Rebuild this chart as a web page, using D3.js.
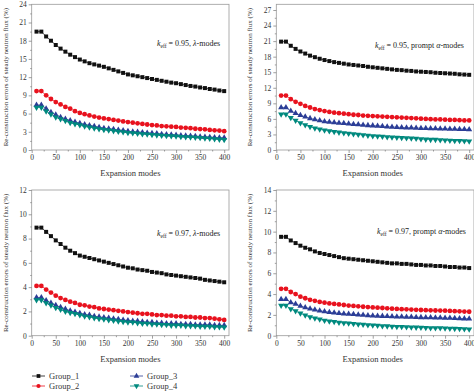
<!DOCTYPE html>
<html>
<head>
<meta charset="utf-8">
<script src="https://cdn.jsdelivr.net/npm/d3@7"></script>
<style>
  body { margin: 0; background: #fff; }
  svg { display: block; font-family: "Liberation Serif", "DejaVu Serif", serif; }
</style>
</head>
<body>
<svg id="svg" width="474" height="391"></svg>
<script>
const modes = d3.range(10, 401, 10)
const groups = ['Group_1', 'Group_2', 'Group_3', 'Group_4']

// k_eff = 0.95, lambda-modes
const tlG1 = [19.5, 19.5, 18.7, 18.0, 17.3, 16.7, 16.2, 15.7, 15.3, 14.9, 14.6, 14.3, 14.1, 13.9, 13.7, 13.45, 13.2, 12.95, 12.7, 12.45, 12.3, 12.15, 12.0, 11.85, 11.7, 11.55, 11.4, 11.25, 11.1, 11.0, 10.85, 10.7, 10.55, 10.45, 10.3, 10.2, 10.05, 9.95, 9.8, 9.7]
const tlG2 = [9.7, 9.7, 9.0, 8.4, 7.9, 7.5, 7.1, 6.8, 6.4, 6.1, 5.9, 5.7, 5.5, 5.35, 5.2, 5.1, 4.95, 4.85, 4.7, 4.6, 4.5, 4.4, 4.3, 4.2, 4.1, 4.05, 3.95, 3.9, 3.85, 3.8, 3.7, 3.65, 3.6, 3.5, 3.45, 3.4, 3.3, 3.25, 3.2, 3.1]
const tlG3 = [7.4, 7.4, 6.8, 6.2, 5.8, 5.4, 5.1, 4.85, 4.6, 4.4, 4.2, 4.05, 3.9, 3.75, 3.6, 3.5, 3.4, 3.3, 3.2, 3.1, 3.0, 2.95, 2.9, 2.8, 2.75, 2.7, 2.6, 2.55, 2.5, 2.45, 2.4, 2.35, 2.3, 2.25, 2.2, 2.15, 2.1, 2.05, 2.0, 2.0]
const tlG4 = [7.0, 7.0, 6.4, 5.9, 5.4, 5.1, 4.8, 4.5, 4.3, 4.1, 3.9, 3.75, 3.6, 3.45, 3.35, 3.25, 3.15, 3.05, 2.95, 2.85, 2.8, 2.7, 2.65, 2.6, 2.5, 2.45, 2.4, 2.35, 2.3, 2.25, 2.2, 2.15, 2.1, 2.05, 2.0, 1.95, 1.9, 1.8, 1.75, 1.7]

// k_eff = 0.95, prompt alpha-modes
const trG1 = [20.9, 20.9, 20.1, 19.5, 19.0, 18.6, 18.2, 17.9, 17.6, 17.35, 17.15, 16.95, 16.8, 16.65, 16.5, 16.4, 16.3, 16.2, 16.05, 15.95, 15.85, 15.75, 15.65, 15.55, 15.45, 15.4, 15.3, 15.25, 15.15, 15.1, 15.05, 15.0, 14.9, 14.85, 14.8, 14.75, 14.7, 14.6, 14.55, 14.5]
const trG2 = [10.5, 10.5, 9.8, 9.3, 8.9, 8.5, 8.2, 7.9, 7.7, 7.5, 7.35, 7.2, 7.1, 7.0, 6.9, 6.8, 6.75, 6.65, 6.6, 6.55, 6.5, 6.45, 6.4, 6.35, 6.3, 6.25, 6.2, 6.15, 6.1, 6.05, 6.0, 5.95, 5.9, 5.9, 5.85, 5.8, 5.8, 5.75, 5.7, 5.7]
const trG3 = [8.2, 8.2, 7.5, 7.1, 6.7, 6.4, 6.1, 5.9, 5.7, 5.5, 5.4, 5.3, 5.2, 5.15, 5.05, 4.95, 4.9, 4.8, 4.75, 4.7, 4.65, 4.6, 4.5, 4.45, 4.4, 4.35, 4.3, 4.3, 4.25, 4.2, 4.2, 4.15, 4.15, 4.1, 4.1, 4.05, 4.05, 4.0, 4.0, 3.95]
const trG4 = [6.9, 6.9, 6.2, 5.7, 5.2, 4.8, 4.5, 4.2, 4.0, 3.8, 3.65, 3.5, 3.4, 3.3, 3.2, 3.1, 3.0, 2.9, 2.8, 2.7, 2.65, 2.6, 2.5, 2.45, 2.4, 2.35, 2.3, 2.25, 2.2, 2.1, 2.05, 2.0, 2.0, 1.95, 1.9, 1.85, 1.8, 1.8, 1.75, 1.7]

// k_eff = 0.97, lambda-modes
const blG1 = [8.9, 8.9, 8.55, 8.2, 7.85, 7.55, 7.25, 7.0, 6.8, 6.6, 6.5, 6.4, 6.3, 6.2, 6.1, 6.0, 5.9, 5.8, 5.7, 5.6, 5.55, 5.45, 5.4, 5.35, 5.25, 5.2, 5.15, 5.05, 5.0, 4.95, 4.9, 4.85, 4.8, 4.75, 4.7, 4.6, 4.55, 4.5, 4.45, 4.4]
const blG2 = [4.1, 4.1, 3.8, 3.55, 3.3, 3.1, 2.95, 2.8, 2.7, 2.55, 2.5, 2.4, 2.35, 2.25, 2.2, 2.15, 2.1, 2.05, 2.0, 1.95, 1.9, 1.85, 1.8, 1.8, 1.75, 1.7, 1.7, 1.65, 1.65, 1.6, 1.6, 1.55, 1.55, 1.5, 1.5, 1.45, 1.45, 1.4, 1.35, 1.3]
const blG3 = [3.15, 3.15, 2.9, 2.7, 2.5, 2.35, 2.2, 2.05, 1.95, 1.85, 1.75, 1.7, 1.6, 1.55, 1.5, 1.45, 1.4, 1.35, 1.3, 1.25, 1.2, 1.2, 1.15, 1.1, 1.1, 1.05, 1.05, 1.0, 1.0, 1.0, 0.95, 0.95, 0.95, 0.9, 0.9, 0.9, 0.9, 0.85, 0.85, 0.85]
const blG4 = [2.95, 2.95, 2.7, 2.5, 2.3, 2.15, 2.0, 1.9, 1.8, 1.7, 1.6, 1.55, 1.45, 1.4, 1.35, 1.3, 1.25, 1.2, 1.15, 1.1, 1.1, 1.05, 1.0, 1.0, 0.95, 0.95, 0.9, 0.9, 0.85, 0.85, 0.85, 0.8, 0.8, 0.8, 0.75, 0.75, 0.75, 0.72, 0.72, 0.7]

// k_eff = 0.97, prompt alpha-modes
const brG1 = [9.5, 9.5, 9.15, 8.9, 8.65, 8.45, 8.3, 8.1, 7.95, 7.85, 7.75, 7.65, 7.55, 7.45, 7.4, 7.35, 7.3, 7.25, 7.2, 7.15, 7.1, 7.05, 7.0, 6.95, 6.95, 6.9, 6.9, 6.85, 6.8, 6.8, 6.75, 6.75, 6.7, 6.7, 6.65, 6.6, 6.6, 6.55, 6.55, 6.5]
const brG2 = [4.5, 4.5, 4.2, 4.0, 3.75, 3.6, 3.45, 3.35, 3.25, 3.17, 3.1, 3.05, 3.0, 2.95, 2.9, 2.86, 2.82, 2.78, 2.75, 2.72, 2.69, 2.66, 2.63, 2.6, 2.57, 2.55, 2.53, 2.51, 2.49, 2.47, 2.45, 2.44, 2.42, 2.41, 2.4, 2.38, 2.36, 2.34, 2.32, 2.3]
const brG3 = [3.5, 3.5, 3.2, 3.05, 2.85, 2.72, 2.6, 2.5, 2.4, 2.32, 2.26, 2.2, 2.15, 2.11, 2.08, 2.05, 2.02, 1.98, 1.95, 1.92, 1.9, 1.88, 1.86, 1.84, 1.83, 1.81, 1.8, 1.79, 1.77, 1.76, 1.75, 1.74, 1.73, 1.72, 1.7, 1.69, 1.67, 1.66, 1.64, 1.63]
const brG4 = [2.9, 2.9, 2.56, 2.37, 2.15, 1.96, 1.8, 1.67, 1.57, 1.47, 1.4, 1.33, 1.27, 1.23, 1.19, 1.15, 1.11, 1.07, 1.03, 1.0, 0.97, 0.94, 0.92, 0.89, 0.87, 0.85, 0.83, 0.81, 0.8, 0.78, 0.77, 0.75, 0.74, 0.73, 0.72, 0.7, 0.68, 0.67, 0.65, 0.63]

const colors = ['#111111', '#e8121e', '#2b3d96', '#00897e']
const symbols = [d3.symbolSquare, d3.symbolCircle, d3.symbolTriangle, d3.symbolTriangle] // last one gets flipped

const panels = [
    { left: 31.7, right: 229, top: 4.3, bottom: 150, yMax: 24, yStep: 3, keff: '0.95', mode: 'λ-modes', tx: 157, ty: 46, series: [tlG1, tlG2, tlG3, tlG4], labelX: 8 },
    { left: 276.3, right: 474, top: 4.3, bottom: 150, yMax: 28.1, yStep: 3, keff: '0.95', mode: 'prompt α-modes', tx: 375, ty: 48, series: [trG1, trG2, trG3, trG4], labelX: 252 },
    { left: 31.7, right: 229, top: 190, bottom: 335.7, yMax: 12, yStep: 2, keff: '0.97', mode: 'λ-modes', tx: 157, ty: 236, series: [blG1, blG2, blG3, blG4], labelX: 8 },
    { left: 276.3, right: 474, top: 190, bottom: 335.7, yMax: 14, yStep: 2, keff: '0.97', mode: 'prompt α-modes', tx: 377, ty: 234, series: [brG1, brG2, brG3, brG4], labelX: 252 }
]

const svg = d3.select('#svg')

panels.forEach(p => {
    const xScale = d3.scaleLinear().domain([0, 410]).range([p.left, p.right])
    const yScale = d3.scaleLinear().domain([0, p.yMax]).range([p.bottom, p.top])
    const g = svg.append('g')

    // frame
    g.append('rect')
        .attr('x', p.left).attr('y', p.top)
        .attr('width', p.right - p.left).attr('height', p.bottom - p.top)
        .attr('fill', 'none').attr('stroke', '#9a9a9a').attr('stroke-width', 0.8)

    // axes
    const yTicks = d3.range(0, p.yMax + 0.01, p.yStep)
    const yAxis = d3.axisLeft(yScale).tickValues(yTicks).tickSize(3).tickPadding(2).tickFormat(d3.format('d'))
    g.append('g').attr('transform', `translate(${p.left},0)`).call(yAxis)
    const yMinor = d3.range(p.yStep / 2, p.yMax, p.yStep)
    g.append('g').attr('transform', `translate(${p.left},0)`)
        .call(d3.axisLeft(yScale).tickValues(yMinor).tickSize(1.5).tickFormat(''))

    const xAxis = d3.axisBottom(xScale).tickValues(d3.range(0, 401, 50)).tickSize(3).tickPadding(2)
    g.append('g').attr('transform', `translate(0,${p.bottom})`).call(xAxis)
    g.append('g').attr('transform', `translate(0,${p.bottom})`)
        .call(d3.axisBottom(xScale).tickValues(d3.range(25, 401, 50)).tickSize(1.5).tickFormat(''))

    g.selectAll('.domain').remove()
    g.selectAll('.tick line').attr('stroke', '#777').attr('stroke-width', 0.7)
    g.selectAll('.tick text').attr('font-size', '7.5px').attr('fill', '#333')
        .attr('font-family', '"Liberation Serif", serif')

    // axis titles
    g.append('text').text('Expansion modes')
        .attr('x', (p.left + Math.min(p.right, 469)) / 2).attr('y', p.bottom + 26)
        .attr('text-anchor', 'middle').attr('font-size', '8.5px').attr('fill', '#333')
    g.append('text').text('Re-construction errors of steady neutron flux (%)')
        .attr('transform', `translate(${p.labelX},${(p.top + p.bottom) / 2}) rotate(-90)`)
        .attr('text-anchor', 'middle').attr('font-size', '7px').attr('fill', '#333')

    // series
    p.series.forEach((vals, i) => {
        const pts = modes.map((m, k) => [m, vals[k]])
        g.append('path')
            .attr('d', d3.line().x(d => xScale(d[0])).y(d => yScale(d[1]))(pts))
            .attr('fill', 'none').attr('stroke', colors[i]).attr('stroke-width', 0.7)
        g.selectAll(null).data(pts).join('path')
            .attr('d', d3.symbol(symbols[i], i === 1 ? 18 : 16))
            .attr('transform', d => `translate(${xScale(d[0])},${yScale(d[1])})` + (i === 3 ? ' rotate(180)' : ''))
            .attr('fill', colors[i])
    })

    // annotation
    const t = g.append('text').attr('x', p.tx).attr('y', p.ty).attr('font-size', '8px').attr('fill', '#222')
    t.append('tspan').text('k').attr('font-style', 'italic')
    t.append('tspan').text('eff').attr('font-size', '5.5px').attr('dy', 2)
    t.append('tspan').text(` = ${p.keff}, `).attr('dy', -2)
    if (p.mode === 'λ-modes') {
        t.append('tspan').text('λ').attr('font-style', 'italic')
        t.append('tspan').text('-modes')
    } else {
        t.append('tspan').text('prompt ')
        t.append('tspan').text('α').attr('font-style', 'italic')
        t.append('tspan').text('-modes')
    }
})

// legend
const legendPos = [[32, 376], [32, 386], [130, 376], [130, 386]]
groups.forEach((name, i) => {
    const [lx, ly] = legendPos[i]
    const lg = svg.append('g')
    lg.append('line').attr('x1', lx).attr('x2', lx + 13).attr('y1', ly).attr('y2', ly)
        .attr('stroke', colors[i]).attr('stroke-width', 0.8)
    lg.append('path')
        .attr('d', d3.symbol(symbols[i], 14))
        .attr('transform', `translate(${lx + 6.5},${ly})` + (i === 3 ? ' rotate(180)' : ''))
        .attr('fill', colors[i])
    lg.append('text').text(name).attr('x', lx + 17).attr('y', ly + 3)
        .attr('font-size', '8.5px').attr('fill', '#333')
})
</script>
</body>
</html>
